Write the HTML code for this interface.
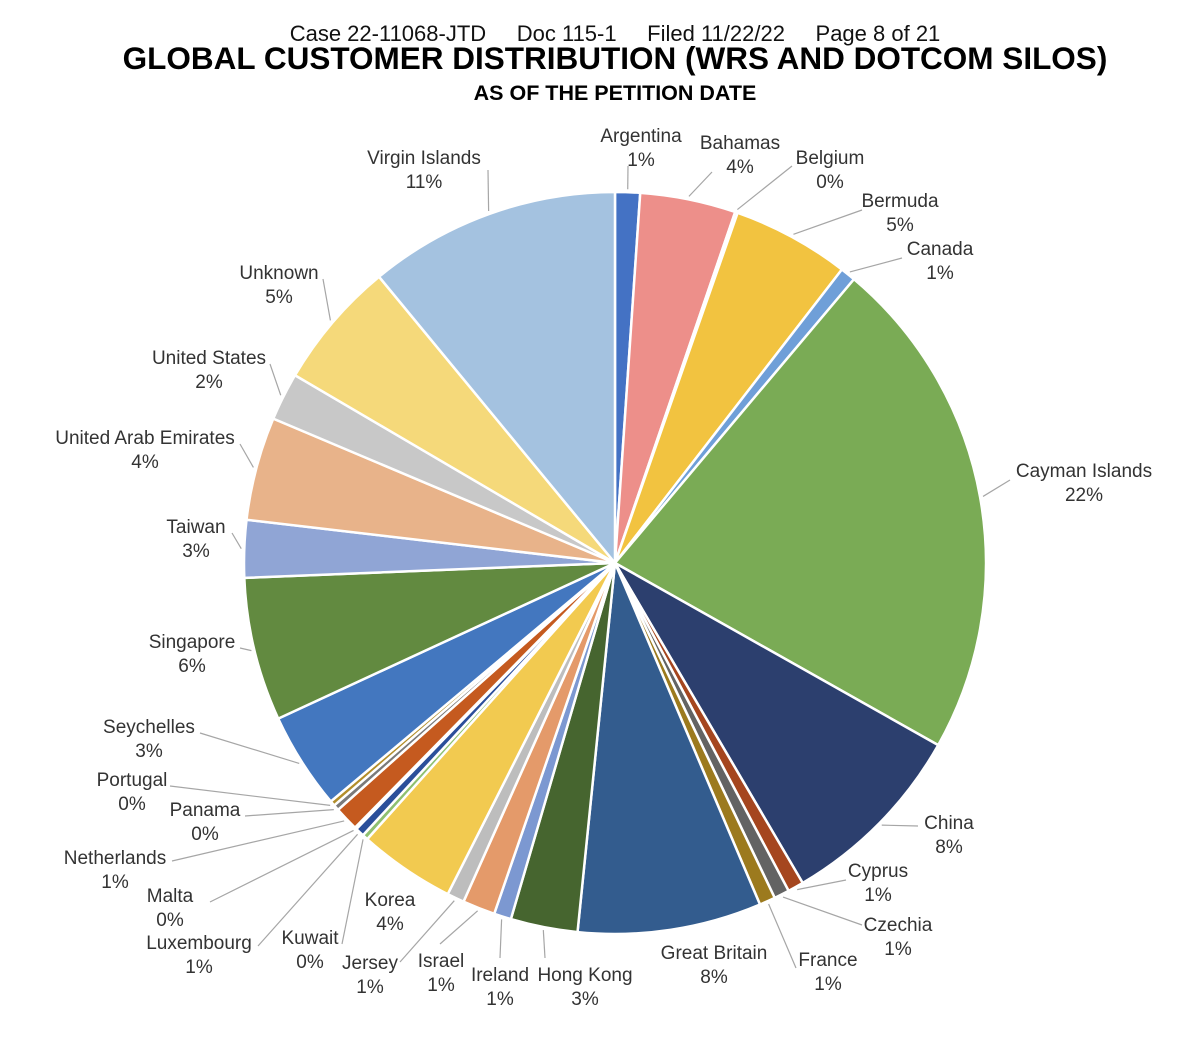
<!DOCTYPE html>
<html><head><meta charset="utf-8"><style>
body{margin:0;background:#fff;width:1200px;height:1055px;overflow:hidden;font-family:"Liberation Sans",Arial,sans-serif}
svg{position:absolute;left:0;top:0}
</style></head><body>
<svg width="1200" height="1055" xml:space="preserve">
<text x="615" y="41" text-anchor="middle" font-size="22" fill="#111" style="white-space:pre">Case 22-11068-JTD     Doc 115-1     Filed 11/22/22     Page 8 of 21</text>
<text x="615" y="69" text-anchor="middle" font-size="31.5" font-weight="bold" fill="#000">GLOBAL CUSTOMER DISTRIBUTION (WRS AND DOTCOM SILOS)</text>
<text x="615" y="100" text-anchor="middle" font-size="21.5" font-weight="bold" fill="#000">AS OF THE PETITION DATE</text>
<g id="slices"></g><g id="labels"></g>
</svg>
<script>
const categories=["Argentina","Bahamas","Belgium","Bermuda","Canada","Cayman Islands","China","Cyprus","Czechia","France","Great Britain","Hong Kong","Ireland","Israel","Jersey","Korea","Kuwait","Luxembourg","Malta","Netherlands","Panama","Portugal","Seychelles","Singapore","Taiwan","United Arab Emirates","United States","Unknown","Virgin Islands"];
const values=[3.9,15.0,0.4,18.4,2.4,79.3,30.2,2.5,2.4,2.5,28.8,10.5,2.7,5.1,2.7,15.1,0.9,1.4,0.3,3.8,0.9,0.8,15.2,22.5,9.0,16.2,7.5,20.1,39.5];
const pctLabels=["1%","4%","0%","5%","1%","22%","8%","1%","1%","1%","8%","3%","1%","1%","1%","4%","0%","1%","0%","1%","0%","0%","3%","6%","3%","4%","2%","5%","11%"];
const colors=["#4472c4","#ed8f8a","#f2c340","#f2c340","#6f9fd8","#7aab55","#2c3f6e","#a5461f","#636363","#9c7a1e","#335c8e","#46652f","#7c98d1","#e49a6a","#bdbdbd","#f2ca50","#8fc070","#2b4f9a","#4472c4","#c55a1f","#7a7a7a","#b28e2b","#4377bf","#628a40","#90a5d5","#e8b38a","#c8c8c8","#f5d97a","#a4c2e0"];
const layout=[[641,142,628,166],[740,149,712,172],[830,164,792,166],[900,207,862,210],[940,255,902,258],[1084,477,1010,480],[949,829,918,826],[878,877,846,880],[898,931,862,925],[828,966,796,968],[714,959,714,959],[585,981,545,958],[500,981,500,958],[441,967,440,944],[370,969,400,962],[390,906,390,906],[310,944,342,944],[199,949,258,946],[170,902,210,902],[115,864,172,861],[205,816,245,816],[132,786,170,786],[149,733,200,733],[192,648,240,648],[196,533,232,533],[145,444,240,444],[209,364,270,364],[279,279,323,279],[424,164,488,170]];
const cx=615,cy=563,R=371;
const total=values.reduce((a,b)=>a+b,0);
function pt(a,r){const t=a*Math.PI/180;return [cx+r*Math.sin(t),cy-r*Math.cos(t)];}
const NS="http://www.w3.org/2000/svg";
const gs=document.getElementById('slices'),gl=document.getElementById('labels');
let acc=0;
values.forEach((v,i)=>{
 const a0=acc/total*360,a1=(acc+v)/total*360;acc+=v;
 const p0=pt(a0,R),p1=pt(a1,R);
 const path=document.createElementNS(NS,'path');
 path.setAttribute('d',`M${cx},${cy}L${p0[0]},${p0[1]}A${R},${R} 0 ${a1-a0>180?1:0} 1 ${p1[0]},${p1[1]}Z`);
 path.setAttribute('fill',colors[i]);path.setAttribute('stroke','#fff');path.setAttribute('stroke-width','2.5');
 
 
 gs.appendChild(path);
 const L=layout[i],m=pt((a0+a1)/2,R+3);
 if(i!=10&&i!=15){
  const ln=document.createElementNS(NS,'line');
  ln.setAttribute('x1',L[2]);ln.setAttribute('y1',L[3]);ln.setAttribute('x2',m[0]);ln.setAttribute('y2',m[1]);
  ln.setAttribute('stroke','#a6a6a6');ln.setAttribute('stroke-width','1.2');
  
  
  gl.appendChild(ln);
 }
 const t=document.createElementNS(NS,'text');
 t.setAttribute('x',L[0]);t.setAttribute('y',L[1]);t.setAttribute('text-anchor','middle');
 t.setAttribute('font-size','19');t.setAttribute('fill','#333');
 
 
 const s1=document.createElementNS(NS,'tspan');s1.setAttribute('x',L[0]);s1.textContent=categories[i];
 const s2=document.createElementNS(NS,'tspan');s2.setAttribute('x',L[0]);s2.setAttribute('dy','24');s2.textContent=pctLabels[i];
 t.appendChild(s1);t.appendChild(s2);gl.appendChild(t);
});
</script>
</body></html>
